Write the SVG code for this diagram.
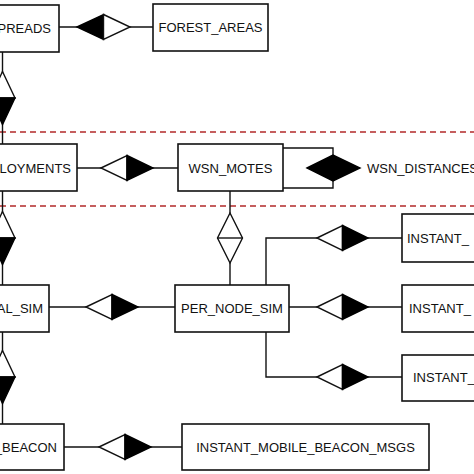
<svg xmlns="http://www.w3.org/2000/svg" width="474" height="474" viewBox="0 0 474 474">
<style>
.box{fill:#fff;stroke:#111;stroke-width:1.6}
.t{font-family:"Liberation Sans",Arial,sans-serif;font-size:13px;fill:#111;dominant-baseline:central}
.c{fill:none;stroke:#111;stroke-width:1.4}
.w{fill:#fff;stroke:#111;stroke-width:1.4;stroke-linejoin:miter}
.b{fill:#000;stroke:#000;stroke-width:1.4}
.dash{stroke:#b22a2a;stroke-width:1.5;stroke-dasharray:6 4;fill:none}
</style>
<rect width="474" height="474" fill="#fff"/>
<g id="separators">
<line class="dash" x1="0" y1="132" x2="474" y2="132"/>
<line class="dash" x1="0" y1="206" x2="474" y2="206"/>
</g>
<g id="connectors">
<!-- left column -->
<line class="c" x1="2.5" y1="52" x2="2.5" y2="144"/>
<line class="c" x1="2.5" y1="191" x2="2.5" y2="285"/>
<line class="c" x1="2.5" y1="332" x2="2.5" y2="424"/>
<!-- row 1 -->
<line class="c" x1="59" y1="27" x2="153" y2="27"/>
<!-- row 2 -->
<line class="c" x1="77" y1="168" x2="178" y2="168"/>
<polyline class="c" points="283,148 333,148 333,188 283,188"/>
<!-- WSN_MOTES to PER_NODE_SIM -->
<line class="c" x1="230" y1="191" x2="230" y2="285"/>
<!-- row 3 -->
<line class="c" x1="49" y1="307" x2="175" y2="307"/>
<polyline class="c" points="266,285 266,238 402,238"/>
<line class="c" x1="289" y1="307" x2="402" y2="307"/>
<polyline class="c" points="266,332 266,377 402,377"/>
<!-- row 4 -->
<line class="c" x1="64" y1="447" x2="182" y2="447"/>
</g>
<g id="diamonds">
<!-- vertical left column: top white, bottom black -->
<g id="d_left1"><polygon class="w" points="2.5,71.5 15,98 -10,98"/><polygon class="b" points="-10,98 15,98 2.5,124.5"/></g>
<g id="d_left2"><polygon class="w" points="2.5,211.5 15,238 -10,238"/><polygon class="b" points="-10,238 15,238 2.5,264.5"/></g>
<g id="d_left3"><polygon class="w" points="2.5,350.5 15,377 -10,377"/><polygon class="b" points="-10,377 15,377 2.5,403.5"/></g>
<!-- row1: left black, right white -->
<g id="d_r1"><polygon class="b" points="77,27 103.5,14.5 103.5,39.5"/><polygon class="w" points="103.5,14.5 130,27 103.5,39.5"/></g>
<!-- row2: left white, right black -->
<g id="d_r2"><polygon class="w" points="101,168 127,155.5 127,180.5"/><polygon class="b" points="127,155.5 153,168 127,180.5"/></g>
<!-- self loop: full black -->
<g id="d_self"><polygon class="b" points="307,168 333,155 360,168 333,181"/></g>
<!-- vertical between WSN_MOTES and PER_NODE_SIM -->
<g id="d_vert"><polygon class="w" points="230,213 242.5,238 230,263 217.5,238"/><line class="c" x1="217.5" y1="238" x2="242.5" y2="238"/></g>
<!-- row3 -->
<g id="d_r3"><polygon class="w" points="86,307 112,294.5 112,319.5"/><polygon class="b" points="112,294.5 138,307 112,319.5"/></g>
<g id="d_i1"><polygon class="w" points="317,238 342.5,225.5 342.5,250.5"/><polygon class="b" points="342.5,225.5 368,238 342.5,250.5"/></g>
<g id="d_i2"><polygon class="w" points="317,307 342.5,294.5 342.5,319.5"/><polygon class="b" points="342.5,294.5 368,307 342.5,319.5"/></g>
<g id="d_i3"><polygon class="w" points="317,377 342.5,364.5 342.5,389.5"/><polygon class="b" points="342.5,364.5 368,377 342.5,389.5"/></g>
<!-- row4 -->
<g id="d_r4"><polygon class="w" points="99,447 125,434.5 125,459.5"/><polygon class="b" points="125,434.5 151,447 125,459.5"/></g>
</g>
<g id="n_spreads"><rect class="box" x="-40" y="5" width="99" height="47"/><text class="t" x="51" y="28" text-anchor="end">PREADS</text></g>
<g id="n_forest"><rect class="box" x="153" y="4" width="115" height="47"/><text class="t" x="210.5" y="27.5" text-anchor="middle">FOREST_AREAS</text></g>
<g id="n_deploy"><rect class="box" x="-40" y="144" width="117" height="47"/><text class="t" x="71" y="168" text-anchor="end">LOYMENTS</text></g>
<g id="n_motes"><rect class="box" x="178" y="144" width="105" height="47"/><text class="t" x="230.5" y="168" text-anchor="middle">WSN_MOTES</text></g>
<g id="n_dist"><text class="t" x="367" y="168">WSN_DISTANCES</text></g>
<g id="n_sim"><rect class="box" x="-40" y="285" width="89" height="47"/><text class="t" x="43" y="308" text-anchor="end">AL_SIM</text></g>
<g id="n_pernode"><rect class="box" x="175" y="285" width="114" height="47"/><text class="t" x="232" y="308" text-anchor="middle">PER_NODE_SIM</text></g>
<g id="n_inst1"><rect class="box" x="402" y="214" width="120" height="48"/><text class="t" x="407" y="238">INSTANT_</text></g>
<g id="n_inst2"><rect class="box" x="402" y="285" width="120" height="47"/><text class="t" x="409" y="308">INSTANT_</text></g>
<g id="n_inst3"><rect class="box" x="402" y="355" width="120" height="46"/><text class="t" x="413" y="377">INSTANT_</text></g>
<g id="n_beacon"><rect class="box" x="-40" y="424" width="104" height="46"/><text class="t" x="57" y="447" text-anchor="end">_BEACON</text></g>
<g id="n_msgs"><rect class="box" x="182" y="424" width="247" height="46"/><text class="t" x="305.5" y="447" text-anchor="middle">INSTANT_MOBILE_BEACON_MSGS</text></g>
</svg>
